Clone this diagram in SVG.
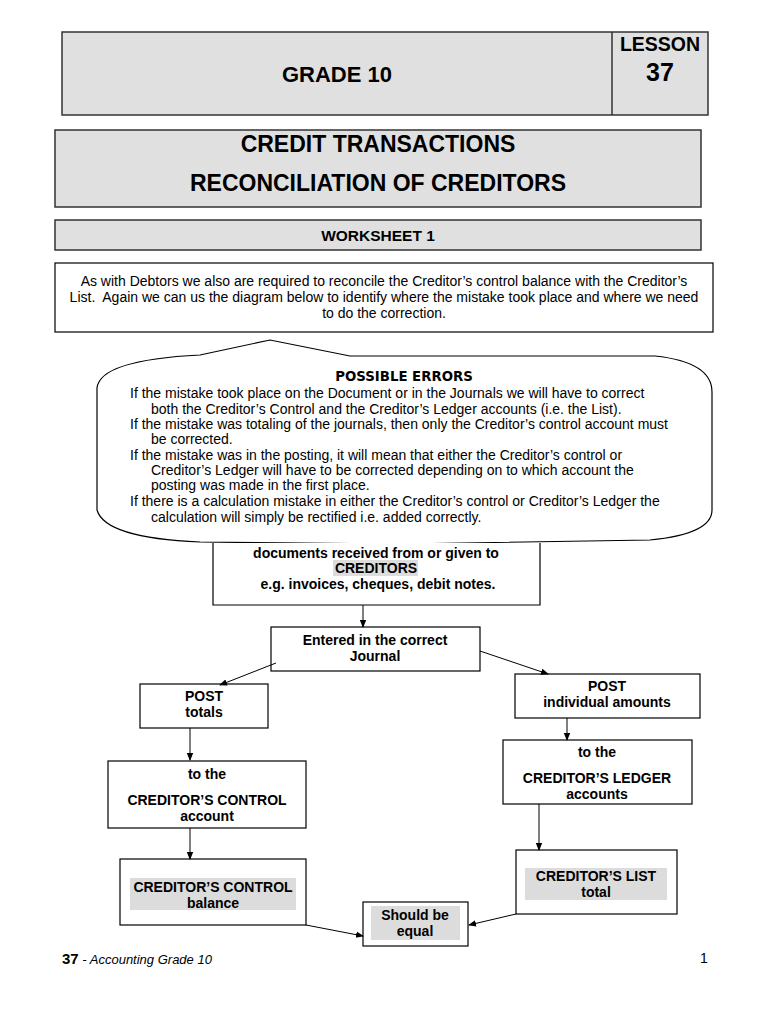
<svg xmlns="http://www.w3.org/2000/svg" width="768" height="1024" viewBox="0 0 768 1024">
<style>
.box{fill:#fff;stroke:#000;stroke-width:1.2}
.gbox{fill:#e0e0e0;stroke:#333;stroke-width:1.5}
.hl{fill:#dcdcdc}
.t{font-family:"Liberation Sans",Arial,sans-serif;fill:#000}
.b{font-weight:bold}
.c{text-anchor:middle}
.n{font-size:14px}
.s{font-size:14px;font-weight:bold;text-anchor:middle}
.ln{stroke:#000;stroke-width:1;fill:none}
</style>
<defs>
<marker id="ah" markerWidth="8" markerHeight="8" refX="7" refY="4" orient="auto" markerUnits="userSpaceOnUse">
<path d="M0,0.8 L8,4 L0,7.2 Z" fill="#000"/>
</marker>
</defs>
<rect width="768" height="1024" fill="#fff"/>

<g id="header">
<rect class="gbox" x="62" y="32" width="646" height="83"/>
<line x1="612" y1="32" x2="612" y2="115" stroke="#333" stroke-width="1.5"/>
<text class="t b c" x="337" y="82" font-size="22">GRADE 10</text>
<text class="t b c" x="660" y="51" font-size="19.5">LESSON</text>
<text class="t b c" x="660" y="81" font-size="25">37</text>
</g>

<g id="title">
<rect class="gbox" x="55" y="130" width="646" height="77"/>
<text class="t b c" x="378" y="152" font-size="23">CREDIT TRANSACTIONS</text>
<text class="t b c" x="378" y="191" font-size="23">RECONCILIATION OF CREDITORS</text>
</g>

<g id="worksheet">
<rect class="gbox" x="55" y="220" width="646" height="30"/>
<text class="t b c" x="378" y="241" font-size="15.5">WORKSHEET 1</text>
</g>

<g id="intro">
<rect class="box" x="55" y="263" width="658" height="69"/>
<text class="t c n" x="384" y="286">As with Debtors we also are required to reconcile the Creditor’s control balance with the Creditor’s</text>
<text class="t c n" x="384" y="302">List.&#160; Again we can us the diagram below to identify where the mistake took place and where we need</text>
<text class="t c n" x="384" y="318">to do the correction.</text>
</g>

<g id="errors">
<path class="box" d="M200,355 L270,340 L350,356 L655,356 Q712,362 712,392 L712,510 Q712,534 650,540 L400,544 L200,542 Q105,538 97,510 L97,388 Q100,360 200,355 Z"/>
<text class="c" x="404" y="381" font-family="'DejaVu Sans',sans-serif" font-weight="bold" font-size="13.3">POSSIBLE ERRORS</text>
<text class="t n" x="130" y="398">If the mistake took place on the Document or in the Journals we will have to correct</text>
<text class="t n" x="151" y="414">both the Creditor’s Control and the Creditor’s Ledger accounts (i.e. the List).</text>
<text class="t n" x="130" y="429">If the mistake was totaling of the journals, then only the Creditor’s control account must</text>
<text class="t n" x="151" y="444">be corrected.</text>
<text class="t n" x="130" y="460">If the mistake was in the posting, it will mean that either the Creditor’s control or</text>
<text class="t n" x="151" y="475">Creditor’s Ledger will have to be corrected depending on to which account the</text>
<text class="t n" x="151" y="490">posting was made in the first place.</text>
<text class="t n" x="130" y="506">If there is a calculation mistake in either the Creditor’s control or Creditor’s Ledger the</text>
<text class="t n" x="151" y="522">calculation will simply be rectified i.e. added correctly.</text>
</g>

<g id="documents">
<path class="box" d="M213,543 L213,605 L540,605 L540,543"/>
<rect class="hl" x="333" y="560" width="85" height="16"/>
<text class="t s" x="376" y="558">documents received from or given to</text>
<text class="t s" x="376" y="573">CREDITORS</text>
<text class="t s" x="378" y="589">e.g. invoices, cheques, debit notes.</text>
</g>

<g id="journal">
<rect class="box" x="271" y="627" width="209" height="44"/>
<text class="t s" x="375" y="645">Entered in the correct</text>
<text class="t s" x="375" y="661">Journal</text>
</g>

<g id="post-totals">
<rect class="box" x="140" y="684" width="128" height="44"/>
<text class="t s" x="204" y="701">POST</text>
<text class="t s" x="204" y="717">totals</text>
</g>

<g id="post-individual">
<rect class="box" x="515" y="674" width="185" height="44"/>
<text class="t s" x="607" y="691">POST</text>
<text class="t s" x="607" y="707">individual amounts</text>
</g>

<g id="control-account">
<rect class="box" x="108" y="761" width="198" height="67"/>
<text class="t s" x="207" y="779">to the</text>
<text class="t s" x="207" y="805">CREDITOR’S CONTROL</text>
<text class="t s" x="207" y="821">account</text>
</g>

<g id="ledger-accounts">
<rect class="box" x="503" y="740" width="189" height="64"/>
<text class="t s" x="597" y="757">to the</text>
<text class="t s" x="597" y="783">CREDITOR’S LEDGER</text>
<text class="t s" x="597" y="799">accounts</text>
</g>

<g id="control-balance">
<rect class="box" x="120" y="859" width="186" height="66"/>
<rect class="hl" x="130" y="878" width="166" height="32"/>
<text class="t s" x="213" y="892">CREDITOR’S CONTROL</text>
<text class="t s" x="213" y="908">balance</text>
</g>

<g id="list-total">
<rect class="box" x="516" y="850" width="161" height="64"/>
<rect class="hl" x="525" y="868" width="142" height="32"/>
<text class="t s" x="596" y="881">CREDITOR’S LIST</text>
<text class="t s" x="596" y="897">total</text>
</g>

<g id="equal">
<rect class="box" x="363" y="902" width="105" height="44"/>
<rect class="hl" x="371" y="906" width="89" height="34"/>
<text class="t s" x="415" y="920">Should be</text>
<text class="t s" x="415" y="936">equal</text>
</g>

<g id="connectors">
<line class="ln" x1="363" y1="605" x2="363" y2="627" marker-end="url(#ah)"/>
<line class="ln" x1="276" y1="663" x2="220" y2="685" marker-end="url(#ah)"/>
<line class="ln" x1="480" y1="651" x2="548" y2="674" marker-end="url(#ah)"/>
<line class="ln" x1="190" y1="728" x2="190" y2="760" marker-end="url(#ah)"/>
<line class="ln" x1="567" y1="718" x2="567" y2="740" marker-end="url(#ah)"/>
<line class="ln" x1="190" y1="828" x2="190" y2="859" marker-end="url(#ah)"/>
<line class="ln" x1="539" y1="804" x2="539" y2="850" marker-end="url(#ah)"/>
<line class="ln" x1="306" y1="925" x2="363" y2="936" marker-end="url(#ah)"/>
<line class="ln" x1="516" y1="914" x2="469" y2="925" marker-end="url(#ah)"/>
</g>

<g id="footer">
<text class="t" x="62" y="964" font-size="13"><tspan font-weight="bold" font-size="15">37</tspan><tspan font-style="italic"> - Accounting Grade 10</tspan></text>
<text class="t" x="700" y="963" font-size="14">1</text>
</g>
</svg>
